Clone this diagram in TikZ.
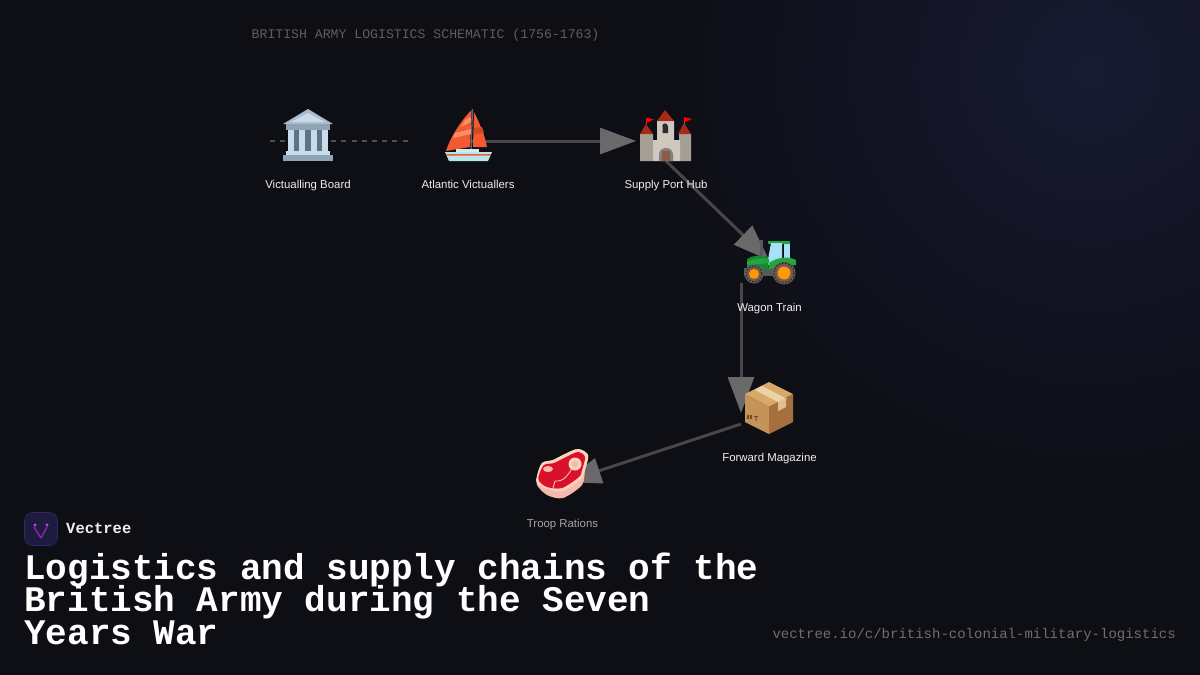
\documentclass[tikz,border=0pt]{standalone}
\usepackage{fontspec}
\usepackage{tikz}
\usetikzlibrary{arrows.meta}
\setmainfont{Liberation Sans}
\newfontfamily\monofont{Liberation Mono}
\lineskiplimit=-100pt
\normallineskiplimit=-100pt
\definecolor{bgbase}{HTML}{0E0E15}
\definecolor{bgglow}{HTML}{171A31}
\definecolor{lnk}{HTML}{474747}
\definecolor{lnkh}{HTML}{696969}
\definecolor{lnkd}{HTML}{505050}
\definecolor{txtl}{HTML}{EFEFEF}
\definecolor{txtg}{HTML}{5E5E5E}
\definecolor{txtu}{HTML}{6F6F6F}
\definecolor{bankr}{HTML}{A9BCCB}
\definecolor{bankc}{HTML}{C8DBEA}
\definecolor{bankd}{HTML}{5F7383}
\definecolor{bankb}{HTML}{8FA4B5}
\definecolor{sail}{HTML}{F4592F}
\definecolor{sailt}{HTML}{F98F68}
\definecolor{sailk}{HTML}{CF4A1E}
\definecolor{hull}{HTML}{B7E6EA}
\definecolor{mast}{HTML}{546E7A}
\definecolor{roofr}{HTML}{A62A17}
\definecolor{stonel}{HTML}{CFC8BD}
\definecolor{stoned}{HTML}{A69F95}
\definecolor{doorb}{HTML}{8D5A45}
\definecolor{tracg}{HTML}{1FA83D}
\definecolor{tracw}{HTML}{A8E0F7}
\definecolor{tract}{HTML}{6B5A52}
\definecolor{trach}{HTML}{FF9800}
\definecolor{boxt}{HTML}{D9A869}
\definecolor{boxl}{HTML}{C4935A}
\definecolor{boxr}{HTML}{A56F3E}
\definecolor{boxs}{HTML}{ECD2A8}
\definecolor{meatr}{HTML}{D9112C}
\definecolor{meatf}{HTML}{F8B8AC}
\definecolor{meatw}{HTML}{F9D5BC}
\definecolor{logob}{HTML}{1E1B3F}
\definecolor{logoe}{HTML}{2E2A66}
\definecolor{logov}{HTML}{8E24AA}
\definecolor{logod}{HTML}{B04FD0}
\tikzset{
  lnksolid/.style={-{Triangle[length=36pt,width=26pt,color=lnkh]},lnk,line width=3pt},
  lnkdash/.style={lnkd,line width=1.6pt,dash pattern=on 5pt off 5.2pt},
  slot/.style={inner sep=0pt,outer sep=0pt,minimum width=#1},
  lab/.style={txtl,inner sep=0pt,anchor=base,font=\fontsize{11.4}{13}\selectfont},
}
\newcommand{\bankicon}[1]{\begin{scope}[shift={#1}]
  \fill[bankr] (0,-27)--(25,-12)--(-25,-12)--cycle;
  \fill[bankc] (0,-23)--(17,-14)--(-17,-14)--cycle;
  \fill[bankb] (-22,-12) rectangle (22,-6);
  \fill[bankd] (-19,-6) rectangle (19,17);
  \foreach \cx in {-17,-6,6,17} \fill[bankc] (\cx-3.2,-6) rectangle (\cx+3.2,17);
  \fill[bankc] (-22,15) rectangle (22,19);
  \fill[bankb] (-25,19) rectangle (25,25);
\end{scope}}
\newcommand{\boaticon}[1]{\begin{scope}[shift={#1}]
  \fill[sail] (3.5,-26) .. controls (-8,-14) and (-18,2) .. (-22,15) -- (2,11) -- cycle;
  \fill[sailt] (-3,-16)--(3,-19)--(3,-14)--(-7,-9)--cycle (-13,-3)--(3,-7)--(3,-2)--(-15,2)--cycle;
  \fill[sail] (6,-24) .. controls (12,-12) and (17,0) .. (19,11) -- (5,11) -- cycle;
  \fill[sailk] (6,-8)--(14,-9)--(16,-3)--(6,-2)--cycle;
  \draw[mast,line width=1.3pt] (4.5,-27) -- (3,14);
  \fill[hull!70!white] (-12,13) rectangle (11,18);
  \fill[hull] (-23,16) -- (24,16) -- (20,25) -- (-19,25) -- cycle;
  \fill[sail] (-22,18) -- (23,18) -- (22,19.5) -- (-21,19.5) -- cycle;
\end{scope}}
\newcommand{\castleicon}[1]{\begin{scope}[shift={#1}]
  \draw[gray,line width=.6pt] (-20,-12)--(-20,-18) (18,-12)--(18,-19);
  \fill[red] (-20,-18.5)--(-12,-16.5)--(-20,-13)--cycle (18,-19)--(26,-17)--(18,-13.5)--cycle;
  \fill[stoned] (-26,-2) rectangle (-13,25) (13,-2) rectangle (25,25);
  \fill[stonel] (-13,4) rectangle (14,25) (-9,-15) rectangle (8,5);
  \fill[roofr] (-1,-26)--(8,-15)--(-9,-15)--cycle (-20,-12)--(-13,-2)--(-26,-2)--cycle (18,-13)--(25,-2)--(12,-2)--cycle;
  \fill[black!65!gray] (-3.5,-3) rectangle (2,-10) (-1,-10) circle (2.7);
  \fill[gray] (-7,25) -- (-7,18) .. controls (-6,10) and (6,10) .. (7,18) -- (7,25) -- cycle;
  \fill[doorb] (-4,25) rectangle (4,15);
\end{scope}}
\newcommand{\tractoricon}[1]{\begin{scope}[shift={#1}]
  \fill[gray!70!black] (-9,-20) rectangle (-6.5,-4);
  \fill[tracg] (-1,-19.5) rectangle (21,-16.5);
  \fill[tracw] (2,-17) -- (-2,5) -- (13,5) -- (13,-17) -- cycle;
  \fill[tracw] (15,-16) rectangle (21,0);
  \fill[gray!70!black] (-25,8) rectangle (6,16);
  \fill[tracg!80!black] (-22,-1) .. controls (-16,-5) and (-8,-5) .. (-2,-4) -- (0,10) -- (-22,8) -- cycle;
  \fill[tracg] (-22,2) .. controls (-16,-2) and (-8,-2) .. (0,-1) -- (0,3) -- (-22,5) -- cycle;
  \fill[tracg] (0,3) .. controls (8,-3) and (20,-4) .. (27,0) -- (27,5) -- (0,9) -- cycle;
  \fill[tract] (15,13) circle (11.5) (-15,14) circle (9.5);
  \draw[black!60!tract,line width=1pt,dash pattern=on 1.6pt off 1.6pt] (15,13) circle (10) (-15,14) circle (8);
  \fill[trach] (15,13) circle (6.5) (-15,14) circle (5);
\end{scope}}
\newcommand{\boxicon}[1]{\begin{scope}[shift={#1}]
  \fill[boxt] (0,-26)--(24,-14)--(0,-1)--(-24,-14)--cycle;
  \fill[boxl] (-24,-14)--(0,-1)--(0,26)--(-24,14)--cycle;
  \fill[boxr] (24,-14)--(0,-1)--(0,26)--(24,14)--cycle;
  \fill[boxs] (-14,-18)--(-7,-22)--(18,-9)--(9,-6)--cycle;
  \fill[boxs!80!boxr] (9,-6)--(17,-10)--(17,-1)--(9,3)--cycle;
  \fill[boxr!70!black] (-22,7) rectangle (-20,11) (-19,7) rectangle (-17,11) (-15,8) rectangle (-11,9) (-13.5,9) rectangle (-12.5,13);
\end{scope}}
\newcommand{\steakicon}[1]{\begin{scope}[shift={#1}]
  \fill[meatf] plot[smooth cycle] coordinates {(-25,2) (-20,-11) (-9,-14) (3,-20) (16,-25) (26,-19) (23,-4) (20,11) (1,24) (-15,21) (-25,11)};
  \fill[meatw] plot[smooth cycle] coordinates {(-25,2) (-20,-11) (-9,-14) (3,-20) (16,-25) (26,-19) (23,-4) (19,5) (1,17) (-15,15) (-25,9)};
  \fill[meatr] plot[smooth cycle] coordinates {(-23,1) (-18,-9) (-8,-11) (4,-17) (16,-22) (23,-17) (20,-4) (17,3) (0,14) (-15,13) (-23,7)};
  \draw[meatw,line width=.8pt] (-9,14) -- (-7,7) (-7,7) .. controls (2,8) and (7,0) .. (10,-6);
  \fill[meatf] (-14,-5) ellipse (5 and 3);
  \fill[meatw] (13,-10) circle (6.5);
  \fill[meatf] (13,-10) circle (3.5);
\end{scope}}
\begin{document}
\begin{tikzpicture}[x=1pt,y=-1pt]
  \useasboundingbox (0,0) rectangle (1200,675);
  \fill[bgbase] (0,0) rectangle (1200,675);
  \begin{scope}
    \clip (0,0) rectangle (1200,675);
    \shade[inner color=bgglow,outer color=bgbase] (1090,70) circle (440);
  \end{scope}
  \node[txtg,anchor=base west,inner sep=0pt,font=\monofont\fontsize{13.17}{15}\selectfont] (head) at (251.5,38.5) {BRITISH ARMY LOGISTICS SCHEMATIC (1756-1763)};
  % slots the links attach to
  \node[slot=76pt,minimum height=10pt] (board) at (308,141) {};
  \node[slot=120pt,minimum height=10pt] (fleet) at (468,141) {};
  \node[slot=60pt,minimum height=40pt] (port) at (666,141) {};
  \node[slot=56pt,minimum height=46pt] (wagon) at (769,260) {};
  \node[slot=56pt,minimum height=22pt] (store) at (769,413) {};
  \node[slot=10pt,minimum height=10pt] (meat) at (565,482) {};
  \draw[lnkdash] (board.west) -- (fleet.west);
  \draw[lnksolid] (fleet.center) -- (port.west);
  \draw[lnksolid] (port.south) -- (wagon.center);
  \draw[lnksolid] (wagon.south west) -- (store.west);
  \draw[lnksolid] (store.south west) -- (meat.center);
  \bankicon{(308,136)}
  \boaticon{(468,136)}
  \castleicon{(666,136)}
  \tractoricon{(769,260)}
  \boxicon{(769,408)}
  \steakicon{(562,474)}
  \node[lab] (boardl) at (308,188) {Victualling Board};
  \node[lab] (fleetl) at (468,188) {Atlantic Victuallers};
  \node[lab] (portl) at (666,188) {Supply Port Hub};
  \node[lab] (wagonl) at (769.5,311) {Wagon Train};
  \node[lab] (storel) at (769.5,461) {Forward Magazine};
  \node[lab,text=white!65!black] (meatl) at (562.5,527) {Troop Rations};
  % brand and title
  \draw[fill=logob,draw=logoe,line width=.6pt,rounded corners=8pt] (24.5,512.5) rectangle (57.5,545.5);
  \draw[logov,line width=1.4pt,line join=round] (34,527) -- (41,538) -- (47,527);
  \fill[logod] (35,525) circle (1.7) (47,525) circle (1.7);
  \node[txtl,anchor=base west,inner sep=0pt,font=\monofont\bfseries\fontsize{15.5}{18}\selectfont] (brand) at (66,533) {Vectree};
  \node[white,anchor=base west,align=left,inner sep=0pt,font=\monofont\bfseries\fontsize{36}{32.4}\selectfont] (title) at (24,644) {Logistics and supply chains of the\\British Army during the Seven\\Years War};
  \node[txtu,anchor=base east,inner sep=0pt,font=\monofont\fontsize{14}{16}\selectfont] (url) at (1176,638) {vectree.io/c/british-colonial-military-logistics};
\end{tikzpicture}
\end{document}
